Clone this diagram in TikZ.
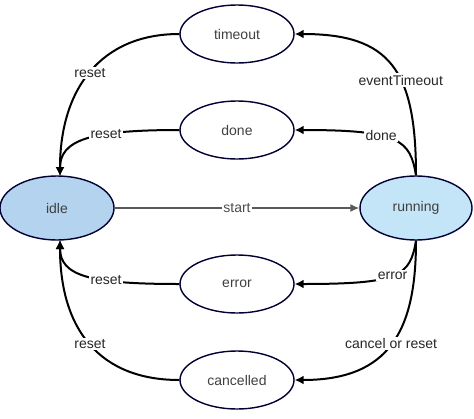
\documentclass[tikz,border=0pt]{standalone}
\usepackage{fontspec}
\setmainfont{Liberation Sans}
\usetikzlibrary{shapes.geometric,arrows.meta}
\definecolor{idlef}{HTML}{B3D3EF}
\definecolor{runf}{HTML}{C4E5F7}
\begin{document}
\begin{tikzpicture}[x=1pt,y=-1pt,
  st/.style={ellipse,draw=black!80!blue,line width=1.4pt,minimum width=114pt,minimum height=58pt,font=\fontsize{14}{16}\selectfont,text=black!75},
  ar/.style={line width=2pt,-{Latex[length=9pt,width=9pt]}},
  lb/.style={fill=white,inner sep=1.5pt,font=\fontsize{14}{16}\selectfont,text=black!85}]
\useasboundingbox (0,0) rectangle (474,418);
\node[st,fill=idlef,minimum height=64pt] (idle) at (57,208) {idle};
\node[st,fill=runf,minimum width=112pt,minimum height=64pt] (running) at (416,208) {running};
\node[st,fill=white] (timeout) at (237,34) {timeout};
\node[st,fill=white] (done) at (237,130) {done};
\node[st,fill=white] (error) at (237,284) {error};
\node[st,fill=white] (cancelled) at (237,380) {cancelled};
\coordinate (it) at (60,176);
\coordinate (ib) at (60,240);
\draw[line width=1.5pt,draw=black!65,-{Latex[length=9pt,width=8pt]}] (idle.east) -- node[lb,text=black!70]{start} (running.west);
\draw[ar] (running.north) .. controls (416,70) and (390,34) .. (timeout.east) node[lb,pos=0.4]{eventTimeout};
\draw[ar] (running.north) .. controls (410,140) and (400,130) .. (done.east) node[lb,pos=0.6]{done};
\draw[ar] (running.south) .. controls (410,276) and (400,284) .. (error.east) node[lb,pos=0.5]{error};
\draw[ar] (running.south) .. controls (416,330) and (390,380) .. (cancelled.east) node[lb,pos=0.5]{cancel or reset};
\draw[ar] (timeout.west) .. controls (100,34) and (60,90) .. (it) node[lb,pos=0.5]{reset};
\draw[ar] (done.west) .. controls (90,130) and (60,140) .. (it) node[lb,pos=0.35]{reset};
\draw[ar] (error.west) .. controls (90,284) and (60,276) .. (ib) node[lb,pos=0.35]{reset};
\draw[ar] (cancelled.west) .. controls (100,380) and (60,330) .. (ib) node[lb,pos=0.5]{reset};
\end{tikzpicture}
\end{document}
